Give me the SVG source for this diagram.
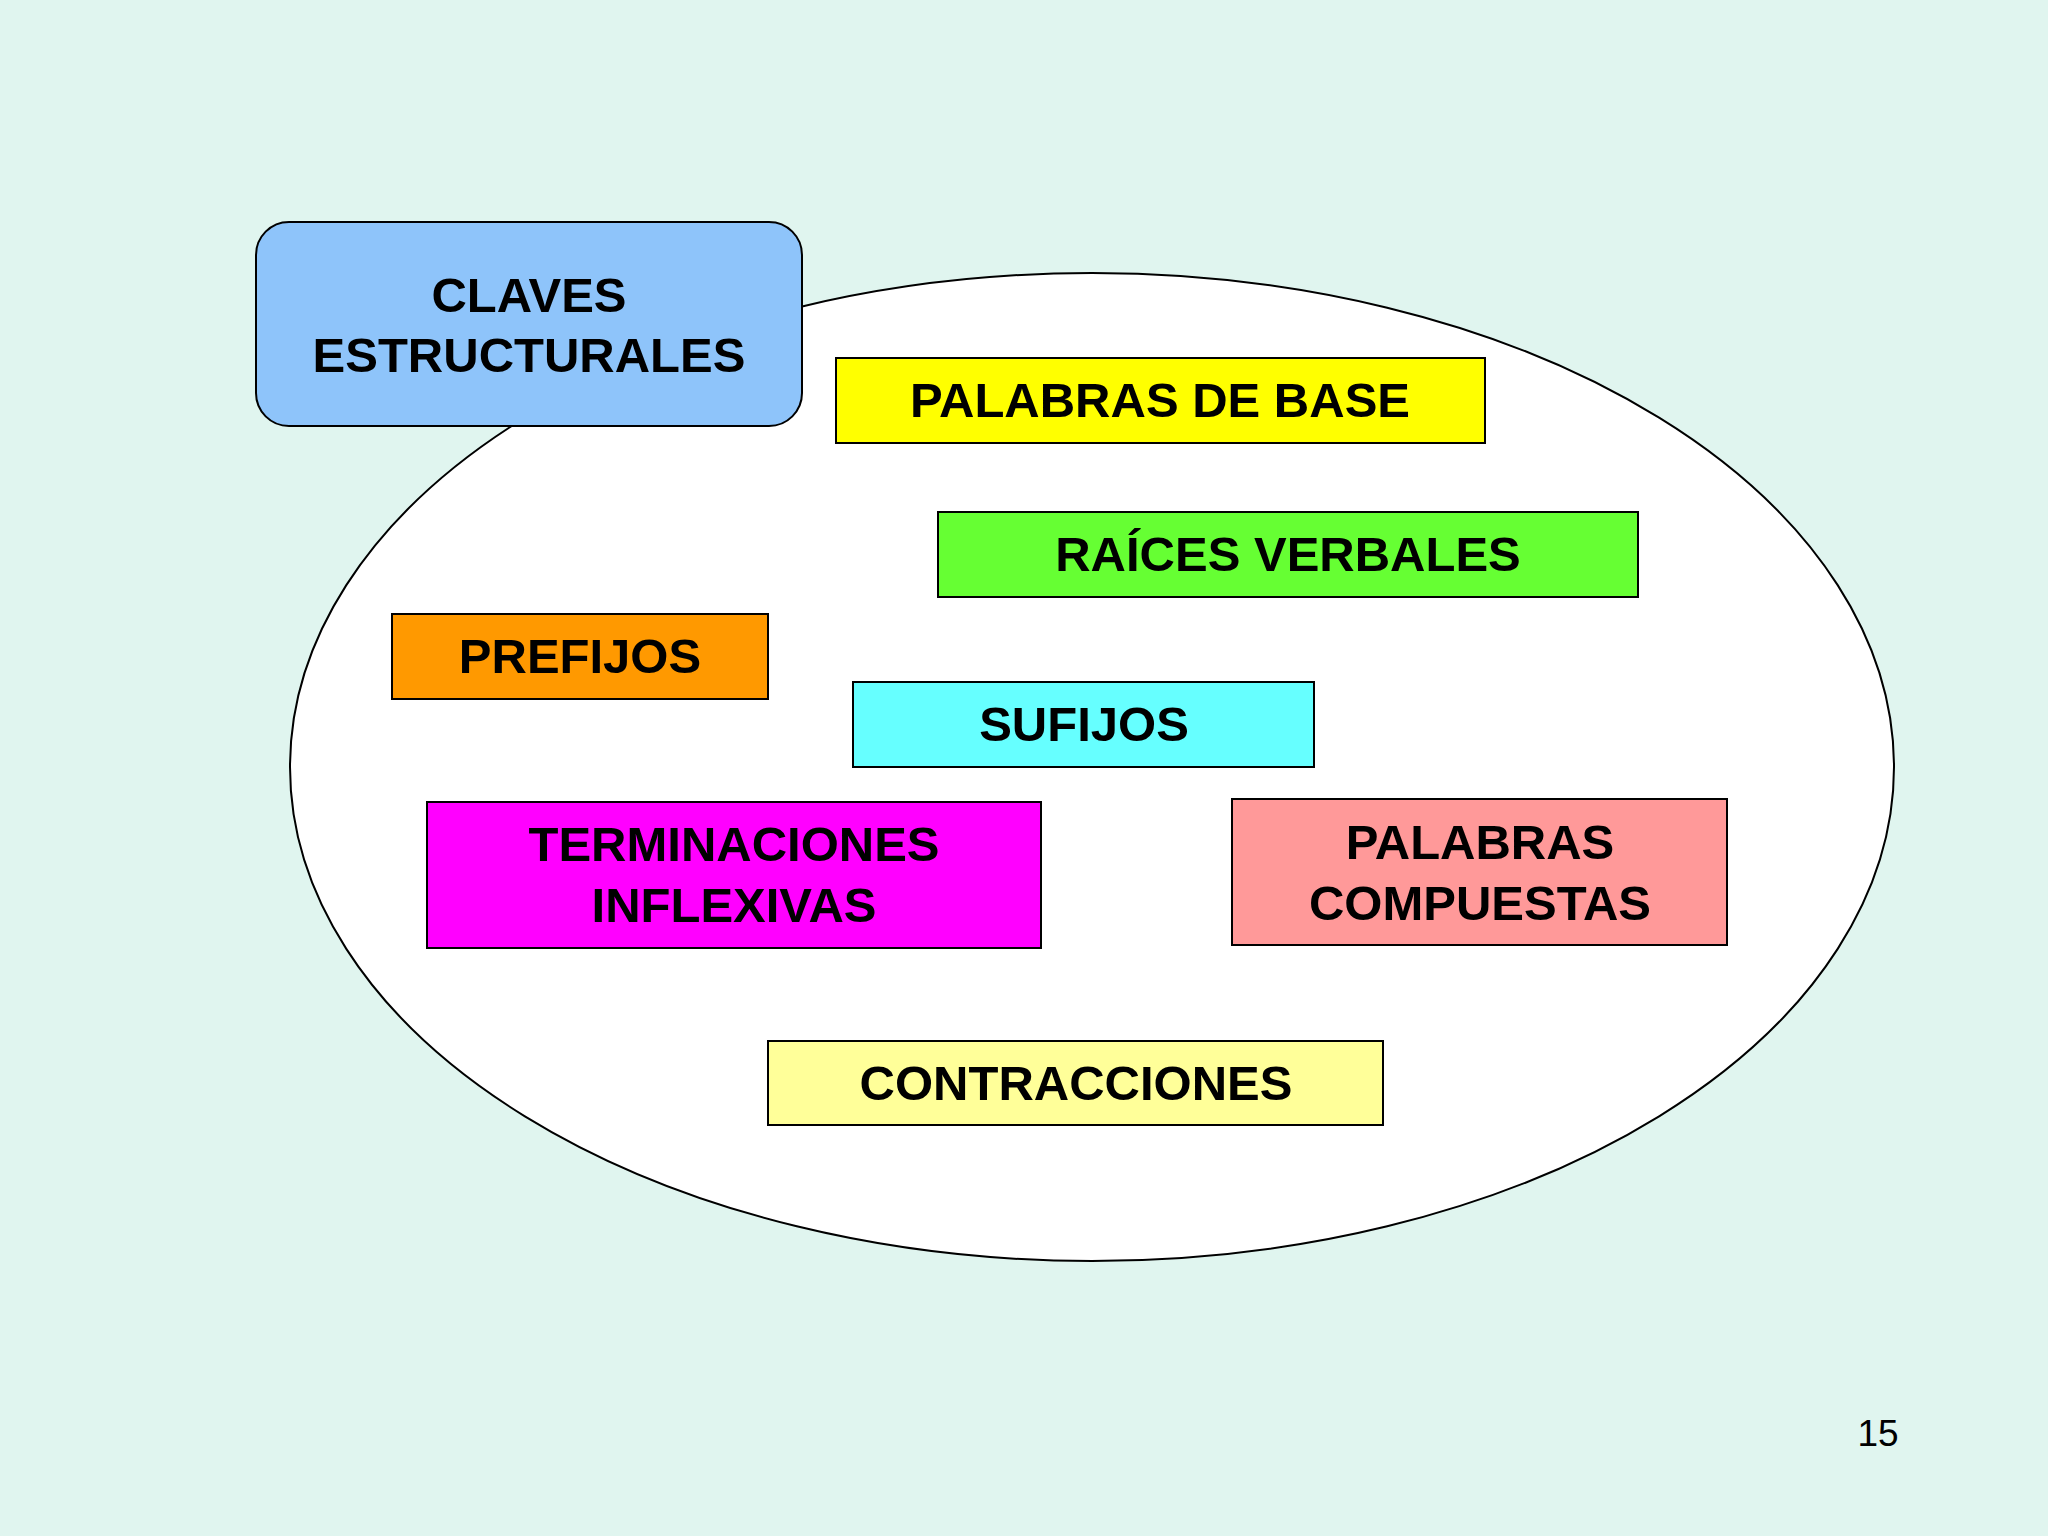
<svg xmlns="http://www.w3.org/2000/svg" width="2048" height="1536" viewBox="0 0 2048 1536">
<style>
.b{stroke:#000;stroke-width:2}
.t{font-family:"Liberation Sans",Arial,sans-serif;font-weight:bold;font-size:49px;text-anchor:middle;fill:#000}
</style>
<rect width="2048" height="1536" fill="#E0F5EF"/>
<ellipse cx="1092" cy="767" rx="802" ry="494" fill="#fff" stroke="#000" stroke-width="2"/>
<g id="claves"><rect class="b" x="256" y="222" width="546" height="204" rx="33" fill="#8EC4FA"/><text class="t" x="529" y="312">CLAVES</text><text class="t" x="529" y="372">ESTRUCTURALES</text></g>
<g id="base"><rect class="b" x="836" y="358" width="649" height="85" fill="#FFFF00"/><text class="t" x="1160" y="417">PALABRAS DE BASE</text></g>
<g id="raices"><rect class="b" x="938" y="512" width="700" height="85" fill="#66FF33"/><text class="t" x="1288" y="571">RAÍCES VERBALES</text></g>
<g id="prefijos"><rect class="b" x="392" y="614" width="376" height="85" fill="#FF9900"/><text class="t" x="580" y="673">PREFIJOS</text></g>
<g id="sufijos"><rect class="b" x="853" y="682" width="461" height="85" fill="#66FFFF"/><text class="t" x="1084" y="741">SUFIJOS</text></g>
<g id="terminaciones"><rect class="b" x="427" y="802" width="614" height="146" fill="#FF00FF"/><text class="t" x="734" y="861">TERMINACIONES</text><text class="t" x="734" y="922">INFLEXIVAS</text></g>
<g id="compuestas"><rect class="b" x="1232" y="799" width="495" height="146" fill="#FF9999"/><text class="t" x="1480" y="859">PALABRAS</text><text class="t" x="1480" y="920">COMPUESTAS</text></g>
<g id="contracciones"><rect class="b" x="768" y="1041" width="615" height="84" fill="#FFFF99"/><text class="t" x="1076" y="1100">CONTRACCIONES</text></g>
<g id="connectors"/>
<text x="1878" y="1446" font-family="Liberation Sans,Arial,sans-serif" font-size="37" text-anchor="middle">15</text>
</svg>
